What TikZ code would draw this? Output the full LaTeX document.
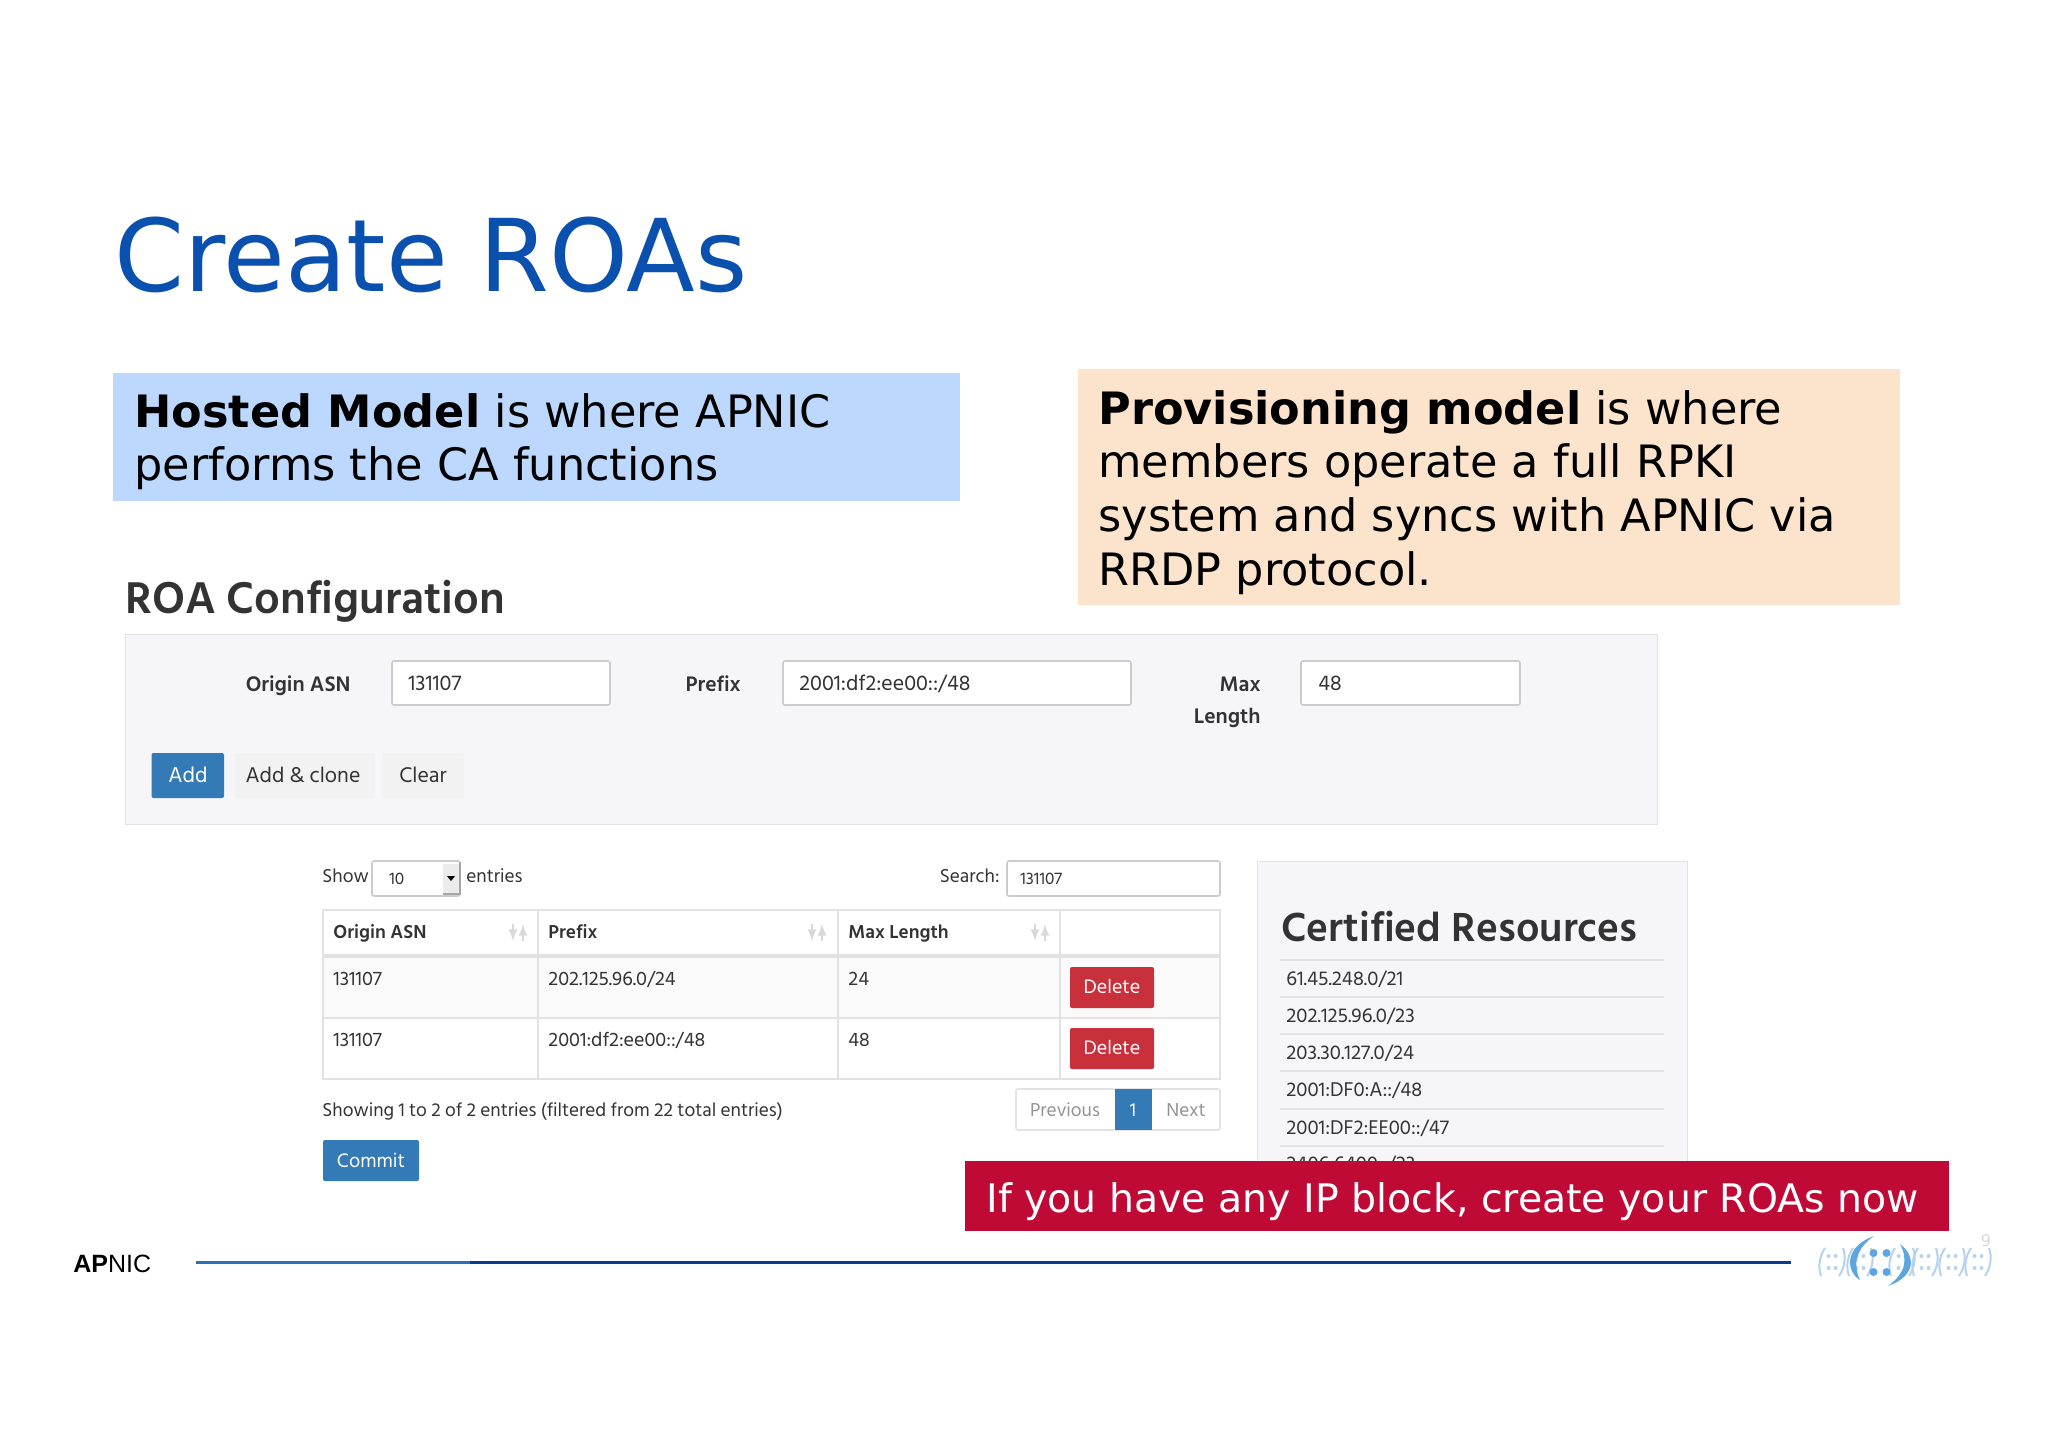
\documentclass[tikz,border=0pt]{standalone}
\usepackage{fontspec}
\setmainfont{DejaVu Sans}
\newfontfamily\uifont{Hind Siliguri}
\newfontfamily\logofont{Liberation Sans}

\definecolor{titleblue}{HTML}{0A50AE}
\definecolor{hostedblue}{HTML}{BDD8FE}
\definecolor{provorange}{HTML}{FCE4CC}
\definecolor{panelgray}{HTML}{F6F6F8}
\definecolor{panelline}{HTML}{E2E2E4}
\definecolor{fieldline}{HTML}{CCCCCC}
\definecolor{uitext}{HTML}{333333}
\definecolor{btnblue}{HTML}{337AB7}
\definecolor{btnred}{HTML}{C8303C}
\definecolor{bannerred}{HTML}{C00A36}
\definecolor{logoblue}{HTML}{5CA5E0}
\definecolor{logolight}{HTML}{B5D3F0}
\definecolor{ruleleft}{HTML}{2E6FB8}
\definecolor{ruleright}{HTML}{0B3A94}

\tikzset{
  pagetext/.style={anchor=north west,align=left,inner sep=0pt,font=\fontsize{22.3}{26.8}\selectfont},
  ui/.style={anchor=base west,inner sep=0pt,text=uitext,font=\uifont\fontsize{9.6}{11}\selectfont},
  uib/.style={ui,font=\uifont\bfseries\fontsize{9.6}{11}\selectfont},
  uicell/.style={ui,font=\uifont\fontsize{10}{11}\selectfont},
  uibig/.style={ui,font=\uifont\fontsize{10.9}{12}\selectfont},
  uibigb/.style={ui,anchor=base east,font=\uifont\bfseries\fontsize{10.8}{12}\selectfont},
  uihead/.style={ui,font=\uifont\bfseries\fontsize{20.8}{24}\selectfont},
  btnlabel/.style={anchor=base,inner sep=0pt,text=white,font=\uifont\fontsize{10}{11}\selectfont},
  field/.style={draw=fieldline,fill=white,line width=0.8pt,rounded corners=1pt},
  sortmark/.style={draw=gray!30,line width=1pt,-latex},
}

\begin{document}
\begin{tikzpicture}[x=0.5pt,y=-0.5pt]
  \useasboundingbox[fill=white] (0,0) rectangle (2048,1448);

  \begin{scope}[shift={(0,1)}]
  \node[anchor=base west,inner sep=0pt,text=titleblue,font=\fontsize{50.2}{56}\selectfont] (title) at (114,290) {Create ROAs};

  \fill[hostedblue] (113,372) rectangle (960,500);
  \node[pagetext] (hosted) at (134,392) {\textbf{Hosted Model} is where APNIC\\performs the CA functions};
  \fill[provorange] (1078,368) rectangle (1900,604);
  \node[pagetext] (provisioning) at (1098,389) {\textbf{Provisioning model} is where\\members operate a full RPKI\\system and syncs with APNIC via\\RRDP protocol.};

  % configuration form
  \node[uihead,font=\uifont\bfseries\fontsize{22.8}{24}\selectfont] (roaconfig) at (125,612) {ROA Configuration};
  \draw[draw=panelline,fill=panelgray] (125.5,633) rectangle (1657,823);
  \node[uibigb] (lblasn) at (351,690) {Origin ASN};
  \draw[field] (392,660) rectangle (610,704);
  \node[uibig] (valasn) at (408,689) {131107};
  \node[uibigb] (lblprefix) at (741,690) {Prefix};
  \draw[field] (783,660) rectangle (1131,704);
  \node[uibig] (valprefix) at (799,689) {2001:df2:ee00::/48};
  \node[uibigb] (lblmax) at (1261,690) {Max};
  \node[uibigb] (lbllength) at (1261,722) {Length};
  \draw[field] (1301,660) rectangle (1520,704);
  \node[uibig] (valmax) at (1318,689) {48};

  \fill[btnblue,rounded corners=1pt] (151.5,752) rectangle (224,797);
  \node[btnlabel,font=\uifont\fontsize{11}{12}\selectfont] (btnadd) at (188,781) {Add};
  \fill[gray!10,rounded corners=1pt] (235,752) rectangle (375,797);
  \node[uibig,anchor=base] (btnclone) at (303,781) {Add \& clone};
  \fill[gray!10,rounded corners=1pt] (382,752) rectangle (464,797);
  \node[uibig,anchor=base] (btnclear) at (423,781) {Clear};

  % table controls
  \node[ui] (lblshow) at (322,881) {Show};
  \draw[field] (372,860) rectangle (460,895);
  \fill[gray!15] (443,863) rectangle (459,894);
  \draw[gray!70,line width=0.8pt] (443,893) -- (460,893) -- (460,861);
  \fill[black] (447,875) -- (455,875) -- (451,880) -- cycle;
  \node[ui,font=\uifont\fontsize{8.6}{10}\selectfont] (valshow) at (389,883) {10};
  \node[ui] (lblentries) at (466,881) {entries};
  \node[ui,anchor=base east] (lblsearch) at (1000,881) {Search:};
  \draw[field] (1007,860) rectangle (1220,895);
  \node[ui,font=\uifont\fontsize{8.6}{10}\selectfont] (valsearch) at (1020,883) {131107};

  % table
  \fill[white] (323,909) rectangle (1220,953);
  \fill[gray!4] (323,957) rectangle (1220,1017);
  \draw[panelline,line width=1pt] (323,909) rectangle (1220,1078);
  \fill[panelline] (323,953) rectangle (1220,957);
  \draw[panelline,line width=0.8pt] (323,1017) -- (1220,1017);
  \foreach \x in {538,838,1060} {
    \draw[panelline,line width=0.8pt] (\x,909) -- (\x,1078);
  }
  \node[uib] (headasn) at (333,937) {Origin ASN};
  \node[uib] (headprefix) at (548,937) {Prefix};
  \node[uib] (headmax) at (848,937) {Max Length};
  \foreach \x in {513,812,1035} {
    \draw[sortmark] (\x,923) -- ++(0,17);
    \draw[sortmark] (\x+10,940) -- ++(0,-17);
  }
  \node[uicell] (rowasna) at (333,984) {131107};
  \node[uicell] (rowprefixa) at (548,984) {202.125.96.0/24};
  \node[uicell] (rowmaxa) at (848,984) {24};
  \fill[btnred,rounded corners=1pt] (1070,966) rectangle (1154,1007);
  \node[btnlabel] (btndeletea) at (1112,992) {Delete};
  \node[uicell] (rowasnb) at (333,1045) {131107};
  \node[uicell] (rowprefixb) at (548,1045) {2001:df2:ee00::/48};
  \node[uicell] (rowmaxb) at (848,1045) {48};
  \fill[btnred,rounded corners=1pt] (1070,1027) rectangle (1154,1068);
  \node[btnlabel] (btndeleteb) at (1112,1053) {Delete};

  \node[ui] (lblshowing) at (322,1115) {Showing 1 to 2 of 2 entries (filtered from 22 total entries)};
  \draw[field,draw=panelline] (1016,1088) rectangle (1220,1129);
  \fill[btnblue] (1114.5,1088) rectangle (1152,1129);
  \node[ui,anchor=base,text=gray!85] (pageprev) at (1065,1115) {Previous};
  \node[btnlabel,font=\uifont\fontsize{9.6}{11}\selectfont] (pageone) at (1133,1115) {1};
  \node[ui,anchor=base,text=gray!85] (pagenext) at (1186,1115) {Next};
  \fill[btnblue,rounded corners=1pt] (323,1139) rectangle (419,1180);
  \node[btnlabel] (btncommit) at (371,1166) {Commit};

  % certified resources
  \draw[draw=panelline,fill=panelgray] (1257,860) rectangle (1687,1170);
  \node[uihead] (certhead) at (1281,940) {Certified Resources};
  \foreach \y in {959,996,1033,1070,1108,1145} {
    \draw[panelline,line width=1pt] (1280,\y) -- (1664,\y);
  }
  \foreach \y/\lbl [count=\n] in {984/61.45.248.0\slash 21,1021/202.125.96.0\slash 23,1058/203.30.127.0\slash 24,1095/2001:DF0:A::\slash 48,1133/2001:DF2:EE00::\slash 47,1169/2406:6400::\slash 23} {
    \node[uicell,font=\uifont\fontsize{10.2}{11}\selectfont] (res\n) at (1286,\y) {\lbl};
  }

  % banner
  \fill[bannerred] (965,1160) rectangle (1949,1230);
  \node[anchor=base west,inner sep=0pt,text=white,font=\fontsize{19.7}{24}\selectfont] (banner) at (986,1211) {If you have any IP block, create your ROAs now};

  % footer
  \node[anchor=base west,inner sep=0pt,font=\logofont\fontsize{12.5}{15}\selectfont] (apnic) at (73,1271) {\textbf{AP}NIC};
  \draw[line width=1.5pt,draw=ruleleft] (196,1261) -- (470,1261);
  \draw[line width=1.5pt,draw=ruleright] (470,1261) -- (1791,1261);
  \node[anchor=base,inner sep=0pt,text=gray!30,font=\fontsize{8}{9}\selectfont] (pagenum) at (1986,1245) {9};

  % logo
  \foreach \x in {1832,1860,1902,1925,1952,1978} {
    \draw[logolight,line width=1pt] (\x-7,1247) .. controls (\x-13,1256) and (\x-14,1266) .. (\x-11,1275);
    \draw[logolight,line width=1pt] (\x+11,1247) .. controls (\x+14,1256) and (\x+13,1266) .. (\x+7,1275);
    \foreach \dx in {-3.5,3.5} \foreach \dy in {1255,1267} {
      \fill[logolight] (\x+\dx,\dy) circle (2);
    }
  }
  \fill[logoblue] (1874,1235) .. controls (1845,1245) and (1845,1270) .. (1860,1279) .. controls (1853,1265) and (1855,1248) .. cycle;
  \fill[logoblue] (1888,1285) .. controls (1916,1275) and (1916,1255) .. (1900,1243) .. controls (1908,1258) and (1906,1272) .. cycle;
  \foreach \dx in {-6.5,6.5} \foreach \dy in {1252,1271} {
    \fill[logoblue] (1880+\dx,\dy) circle (4);
  }
  \end{scope}
\end{tikzpicture}
\end{document}
